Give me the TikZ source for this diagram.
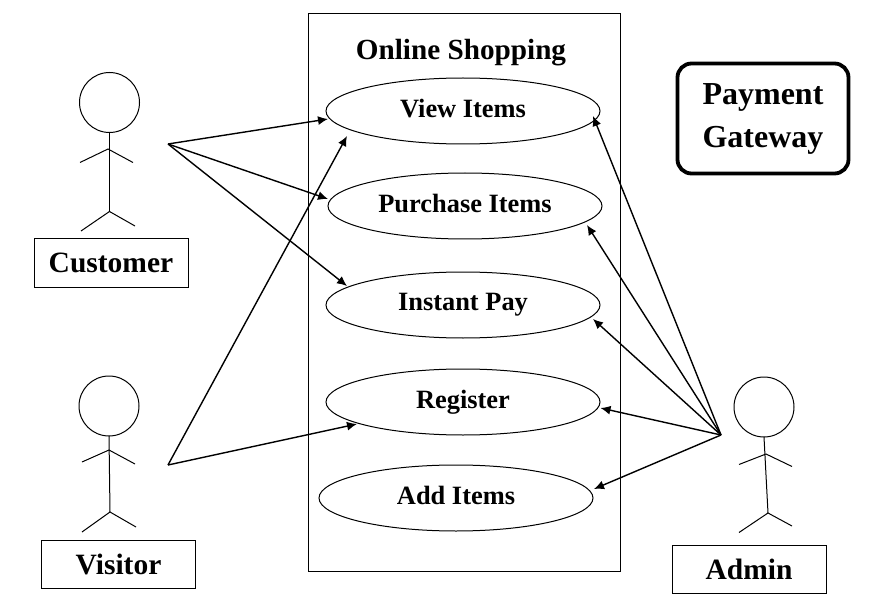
\documentclass[tikz,border=0pt]{standalone}
\usepackage{fontspec}
\setmainfont{Liberation Serif}
\usepackage{tikz}
\usetikzlibrary{positioning,shapes.geometric,arrows.meta}
\tikzset{
  usecase/.style={shape=ellipse,draw=black,line width=1pt,inner sep=0pt,outer sep=0pt,minimum width=274pt,minimum height=66pt,font=\fontsize{26.4}{30}\selectfont\bfseries},
  actorbox/.style={draw=black,line width=1pt,inner sep=0pt,outer sep=0pt,minimum width=154pt,minimum height=48pt,font=\fontsize{29.5}{33}\selectfont\bfseries},
  head/.style={shape=circle,draw=black,line width=1pt,inner sep=0pt,outer sep=0pt,minimum size=60pt},
  stick/.style={draw=black,line width=1pt},
  assoc/.style={-{Latex[length=10pt,width=9pt]},line width=1.4pt}
}
\begin{document}
\begin{tikzpicture}[x=1pt,y=-1pt]
\useasboundingbox (0,0) rectangle (871,607);

\node[draw=black,line width=1pt,inner sep=0pt,minimum width=312pt,minimum height=557pt] (system) at (464,292.5) {};
\node[font=\fontsize{29.2}{33}\selectfont\bfseries] (title) at (461,53) {Online Shopping};

\node[usecase] (view) at (463,111) {\raisebox{5pt}{View Items}};
\node[usecase] (purchase) at (465,206) {\raisebox{5pt}{Purchase Items}};
\node[usecase] (pay) at (463,305) {\raisebox{4pt}{Instant Pay}};
\node[usecase] (register) at (463,402) {\raisebox{6pt}{Register}};
\node[usecase] (add) at (456,498) {\raisebox{5pt}{Add Items}};

\node[draw=black,line width=3.8pt,rounded corners=14pt,minimum width=171pt,minimum height=110pt,align=center,font=\fontsize{32}{43}\selectfont\bfseries] (gateway) at (763,118.5) {\raisebox{-2pt}{Payment}\\\raisebox{-2pt}{Gateway}};

\node[actorbox] (customer) at (111,263) {Customer};
\node[actorbox] (visitor) at (118.5,564.5) {Visitor};
\node[actorbox] (admin) at (749,569) {Admin};

% customer
\node[head] (chead) at (109.5,102.5) {};
\draw[stick] (chead.south) -- (109.5,211.5);
\draw[stick] (80,162.5) -- (108,149) -- (133,162.5);
\draw[stick] (81,231) -- (109.5,211.5) -- (135,226);

% visitor
\node[head] (vhead) at (109,406) {};
\draw[stick] (vhead.south) -- (110,512);
\draw[stick] (82,462) -- (109,450) -- (135,464);
\draw[stick] (82,532) -- (110,512) -- (136,527);

% admin
\node[head] (ahead) at (764,407) {};
\draw[stick] (ahead.south) -- (768,513);
\draw[stick] (739,464.5) -- (766,454) -- (792,466.5);
\draw[stick] (739,532.5) -- (768,513) -- (792,526);

\coordinate (cfrom) at (168,144);
\coordinate (vfrom) at (168,465);
\coordinate (afrom) at (721,435);

\path [assoc] (cfrom) edge ([shift={(-135,8)}]view.center);
\path [assoc] (cfrom) edge ([shift={(-137,-7)}]purchase.center);
\path [assoc] (cfrom) edge ([shift={(-116,-19)}]pay.center);
\path [assoc] (vfrom) edge ([shift={(-116,25)}]view.center);
\path [assoc] (vfrom) edge ([shift={(-106,22)}]register.center);
\path [assoc] (afrom) edge ([shift={(130,5)}]view.center);
\path [assoc] (afrom) edge ([shift={(122,19)}]purchase.center);
\path [assoc] (afrom) edge ([shift={(130,14)}]pay.center);
\path [assoc] (afrom) edge ([shift={(137.5,6)}]register.center);
\path [assoc] (afrom) edge ([shift={(138,-9)}]add.center);

\end{tikzpicture}
\end{document}
